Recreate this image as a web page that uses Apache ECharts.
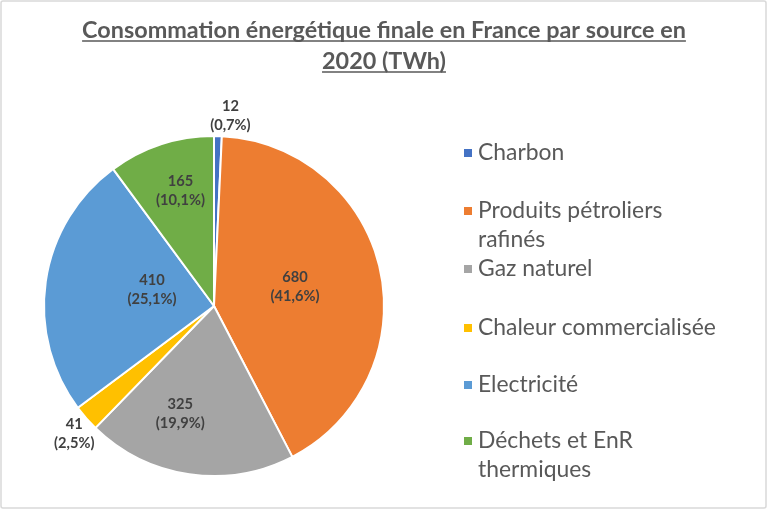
<!DOCTYPE html>
<html><head><meta charset="utf-8">
<script src="https://cdn.jsdelivr.net/npm/echarts@6/dist/echarts.min.js"></script>
<style>html,body{margin:0;padding:0;background:#fff}#c{width:768px;height:510px}</style>
</head><body><div id="c"></div>
<script>
const categories = ['Charbon', 'Produits pétroliers rafinés', 'Gaz naturel', 'Chaleur commercialisée', 'Electricité', 'Déchets et EnR thermiques'];
const legendLabels = ['Charbon', 'Produits pétroliers\nrafinés', 'Gaz naturel', 'Chaleur commercialisée', 'Electricité', 'Déchets et EnR\nthermiques'];
const values = [12, 680, 325, 41, 410, 165];
const colors = ['#4472C4', '#ED7D31', '#A5A5A5', '#FFC000', '#5B9BD5', '#70AD47'];
const titleLines = ['Consommation énergétique finale en France par source en', '2020 (TWh)'];

const FONT = 'Lato';
const ctx = document.createElement('canvas').getContext('2d');
function measure(text, size, weight) { ctx.font = weight + ' ' + size + 'px ' + FONT; return ctx.measureText(text).width; }
function fit(text, weight, target) { return 100 * target / measure(text, 100, weight); }

const titleSize = fit(titleLines[0], 'bold', 604);
const legendSize = fit('Chaleur commercialisée', 'normal', 238);
const labelSize = fit('(41,6%)', 'bold', 49);

const total = values.reduce((a, b) => a + b, 0);
const outsideIdx = [0, 3];
const labelShift = [[7, 0], [-5, 0], [-21, 21], [8, 2], [25, -3], [-6, -32]];
const legendLineY = [153, 211, 269, 328, 385, 441];
const LH = 29;

const data = categories.map((n, i) => {
  const d = { name: n, value: values[i], itemStyle: { color: colors[i] } };
  if (outsideIdx.includes(i)) { d.label = { position: 'outside' }; d.labelLine = { show: false }; }
  return d;
});

const legends = categories.map((n, i) => {
  const two = legendLabels[i].includes('\n');
  // a blank first line keeps the marker level with the first text line of a wrapped entry
  const txt = two ? '\u00a0\n' + legendLabels[i] : legendLabels[i];
  const boxH = two ? LH * 3 : LH;
  return {
    orient: 'vertical', left: 462, top: legendLineY[i] - boxH / 2, padding: 0,
    itemWidth: 10, itemHeight: 10, icon: 'rect',
    data: [n],
    formatter: () => txt,
    selectedMode: false,
    textStyle: { fontFamily: FONT, fontSize: legendSize, color: '#595959', lineHeight: LH }
  };
});

const titleW = titleLines.map(t => measure(t, titleSize, 'bold'));
const titleY = [30, 61];
const underY = [41, 72];
const graphics = [
  { type: 'rect', shape: { x: 1, y: 1, width: 765, height: 507, r: 2 }, style: { fill: 'none', stroke: '#d9d9d9', lineWidth: 1.5 }, silent: true }
];
titleLines.forEach((t, i) => {
  graphics.push({ type: 'text', x: 384, y: titleY[i], style: { text: t, font: 'bold ' + titleSize + 'px ' + FONT, fill: '#595959', align: 'center', verticalAlign: 'middle' } });
  graphics.push({ type: 'line', shape: { x1: 384 - titleW[i] / 2, y1: underY[i], x2: 384 + titleW[i] / 2, y2: underY[i] }, style: { stroke: '#595959', lineWidth: 1.5 } });
});

const chart = echarts.init(document.getElementById('c'), null, { renderer: 'canvas' });
chart.setOption({
  animation: false,
  backgroundColor: '#fff',
  legend: legends,
  graphic: graphics,
  series: [{
    type: 'pie',
    center: [214, 306],
    radius: 170,
    startAngle: 90,
    clockwise: true,
    avoidLabelOverlap: false,
    itemStyle: { borderColor: '#fff', borderWidth: 2 },
    emphasis: { scale: false },
    label: {
      show: true, position: 'inside', fontFamily: FONT, fontWeight: 'bold', fontSize: labelSize,
      color: '#404040', lineHeight: 19,
      formatter: p => p.value + '\n(' + (p.value / total * 100).toFixed(1).replace('.', ',') + '%)'
    },
    labelLine: { show: false, length: 20, length2: 0 },
    labelLayout: p => {
      const s = labelShift[p.dataIndex];
      const r = { dx: s[0], dy: s[1] };
      if (outsideIdx.includes(p.dataIndex)) r.align = 'center';
      return r;
    },
    data: data
  }]
});
</script>
</body></html>
